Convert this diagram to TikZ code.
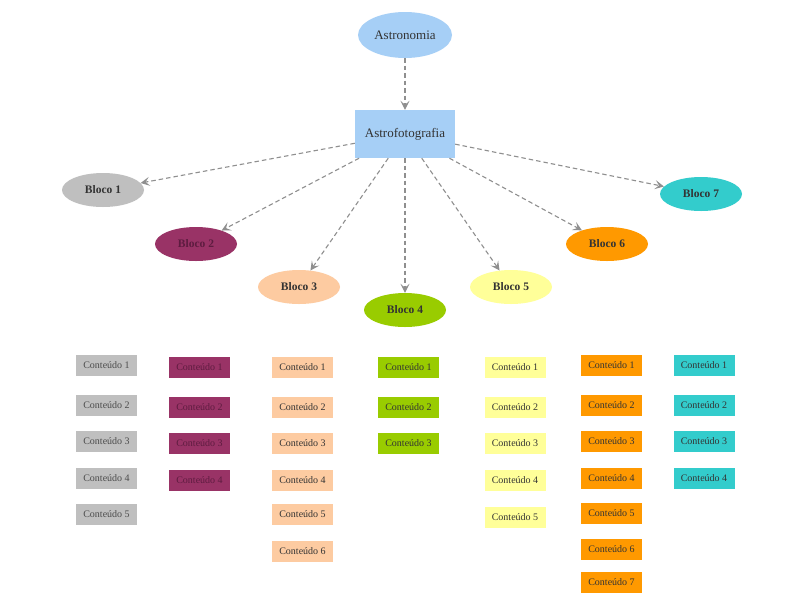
\documentclass[tikz,border=0pt]{standalone}
\usepackage{fontspec}
\setmainfont{Liberation Serif}
\usetikzlibrary{shapes.geometric,arrows.meta}
\definecolor{skyb}{HTML}{A6CFF6}
\definecolor{cgray}{HTML}{BFBFBF}
\definecolor{cmag}{HTML}{993366}
\definecolor{cpeach}{HTML}{FDCBA1}
\definecolor{cgreen}{HTML}{99CC00}
\definecolor{cyel}{HTML}{FFFF99}
\definecolor{corange}{HTML}{FF9900}
\definecolor{cteal}{HTML}{33CCCC}
\definecolor{txt}{HTML}{333333}
\definecolor{magtxt}{HTML}{5E1C40}
\definecolor{arr}{HTML}{8F8F8F}
\tikzset{
  topell/.style={ellipse, fill=skyb, inner sep=0pt, minimum width=94pt, minimum height=46pt, font=\fontsize{13}{15}\selectfont, text=txt},
  astrobox/.style={rectangle, fill=skyb, inner sep=0pt, minimum width=100pt, minimum height=48pt, font=\fontsize{13}{15}\selectfont, text=txt},
  blk/.style={ellipse, fill=#1, inner sep=0pt, minimum width=82pt, minimum height=34pt, font=\fontsize{11.5}{13}\selectfont\bfseries, text=txt},
  cbox/.style={rectangle, fill=#1, inner sep=0pt, minimum width=61pt, minimum height=21pt, font=\fontsize{10}{12}\selectfont, text=txt},
  link/.style={draw=arr, line width=1.1pt, dash pattern=on 4.5pt off 3pt, -{Stealth[length=9pt,width=9pt,inset=4pt]}}
}
\begin{document}
\begin{tikzpicture}[x=1pt,y=-1pt]
\useasboundingbox (0,0) rectangle (800,600);
\fill[white] (0,0) rectangle (800,600);
\node[topell] (astro) at (405,35) {Astronomia};
\node[astrobox] (foto) at (405,134) {Astrofotografia};
\node[blk=cgray] (b1) at (103,190) {Bloco 1};
\node[blk=cmag, text=magtxt] (b2) at (196,244) {Bloco 2};
\node[blk=cpeach] (b3) at (299,287) {Bloco 3};
\node[blk=cgreen] (b4) at (405,310) {Bloco 4};
\node[blk=cyel] (b5) at (511,287) {Bloco 5};
\node[blk=corange] (b6) at (607,244) {Bloco 6};
\node[blk=cteal] (b7) at (701,194) {Bloco 7};
\draw[link] (astro) -- (foto);
\foreach \b in {b1,b2,b3,b4,b5,b6,b7} \draw[link] (foto) -- (\b);
% column 1
\foreach \i/\y in {1/365.5,2/405.5,3/441.5,4/478.5,5/514.5}
  \node[cbox=cgray, text=black!70] (c1\i) at (106.5,\y) {Conteúdo \i};
% column 2
\foreach \i/\y in {1/367.5,2/407.5,3/443.5,4/480.5}
  \node[cbox=cmag, text=magtxt] (c2\i) at (199.5,\y) {Conteúdo \i};
% column 3
\foreach \i/\y in {1/367.5,2/407.5,3/443.5,4/480.5,5/514.5,6/551.5}
  \node[cbox=cpeach] (c3\i) at (302.5,\y) {Conteúdo \i};
% column 4
\foreach \i/\y in {1/367.5,2/407.5,3/443.5}
  \node[cbox=cgreen] (c4\i) at (408.5,\y) {Conteúdo \i};
% column 5
\foreach \i/\y in {1/367.5,2/407.5,3/443.5,4/480.5,5/517.5}
  \node[cbox=cyel] (c5\i) at (515,\y) {Conteúdo \i};
% column 6
\foreach \i/\y in {1/365.5,2/405.5,3/441.5,4/478.5,5/513,6/549.5,7/582.5}
  \node[cbox=corange] (c6\i) at (611.5,\y) {Conteúdo \i};
% column 7
\foreach \i/\y in {1/365.5,2/405.5,3/441.5,4/478.5}
  \node[cbox=cteal] (c7\i) at (704,\y) {Conteúdo \i};
\end{tikzpicture}
\end{document}
